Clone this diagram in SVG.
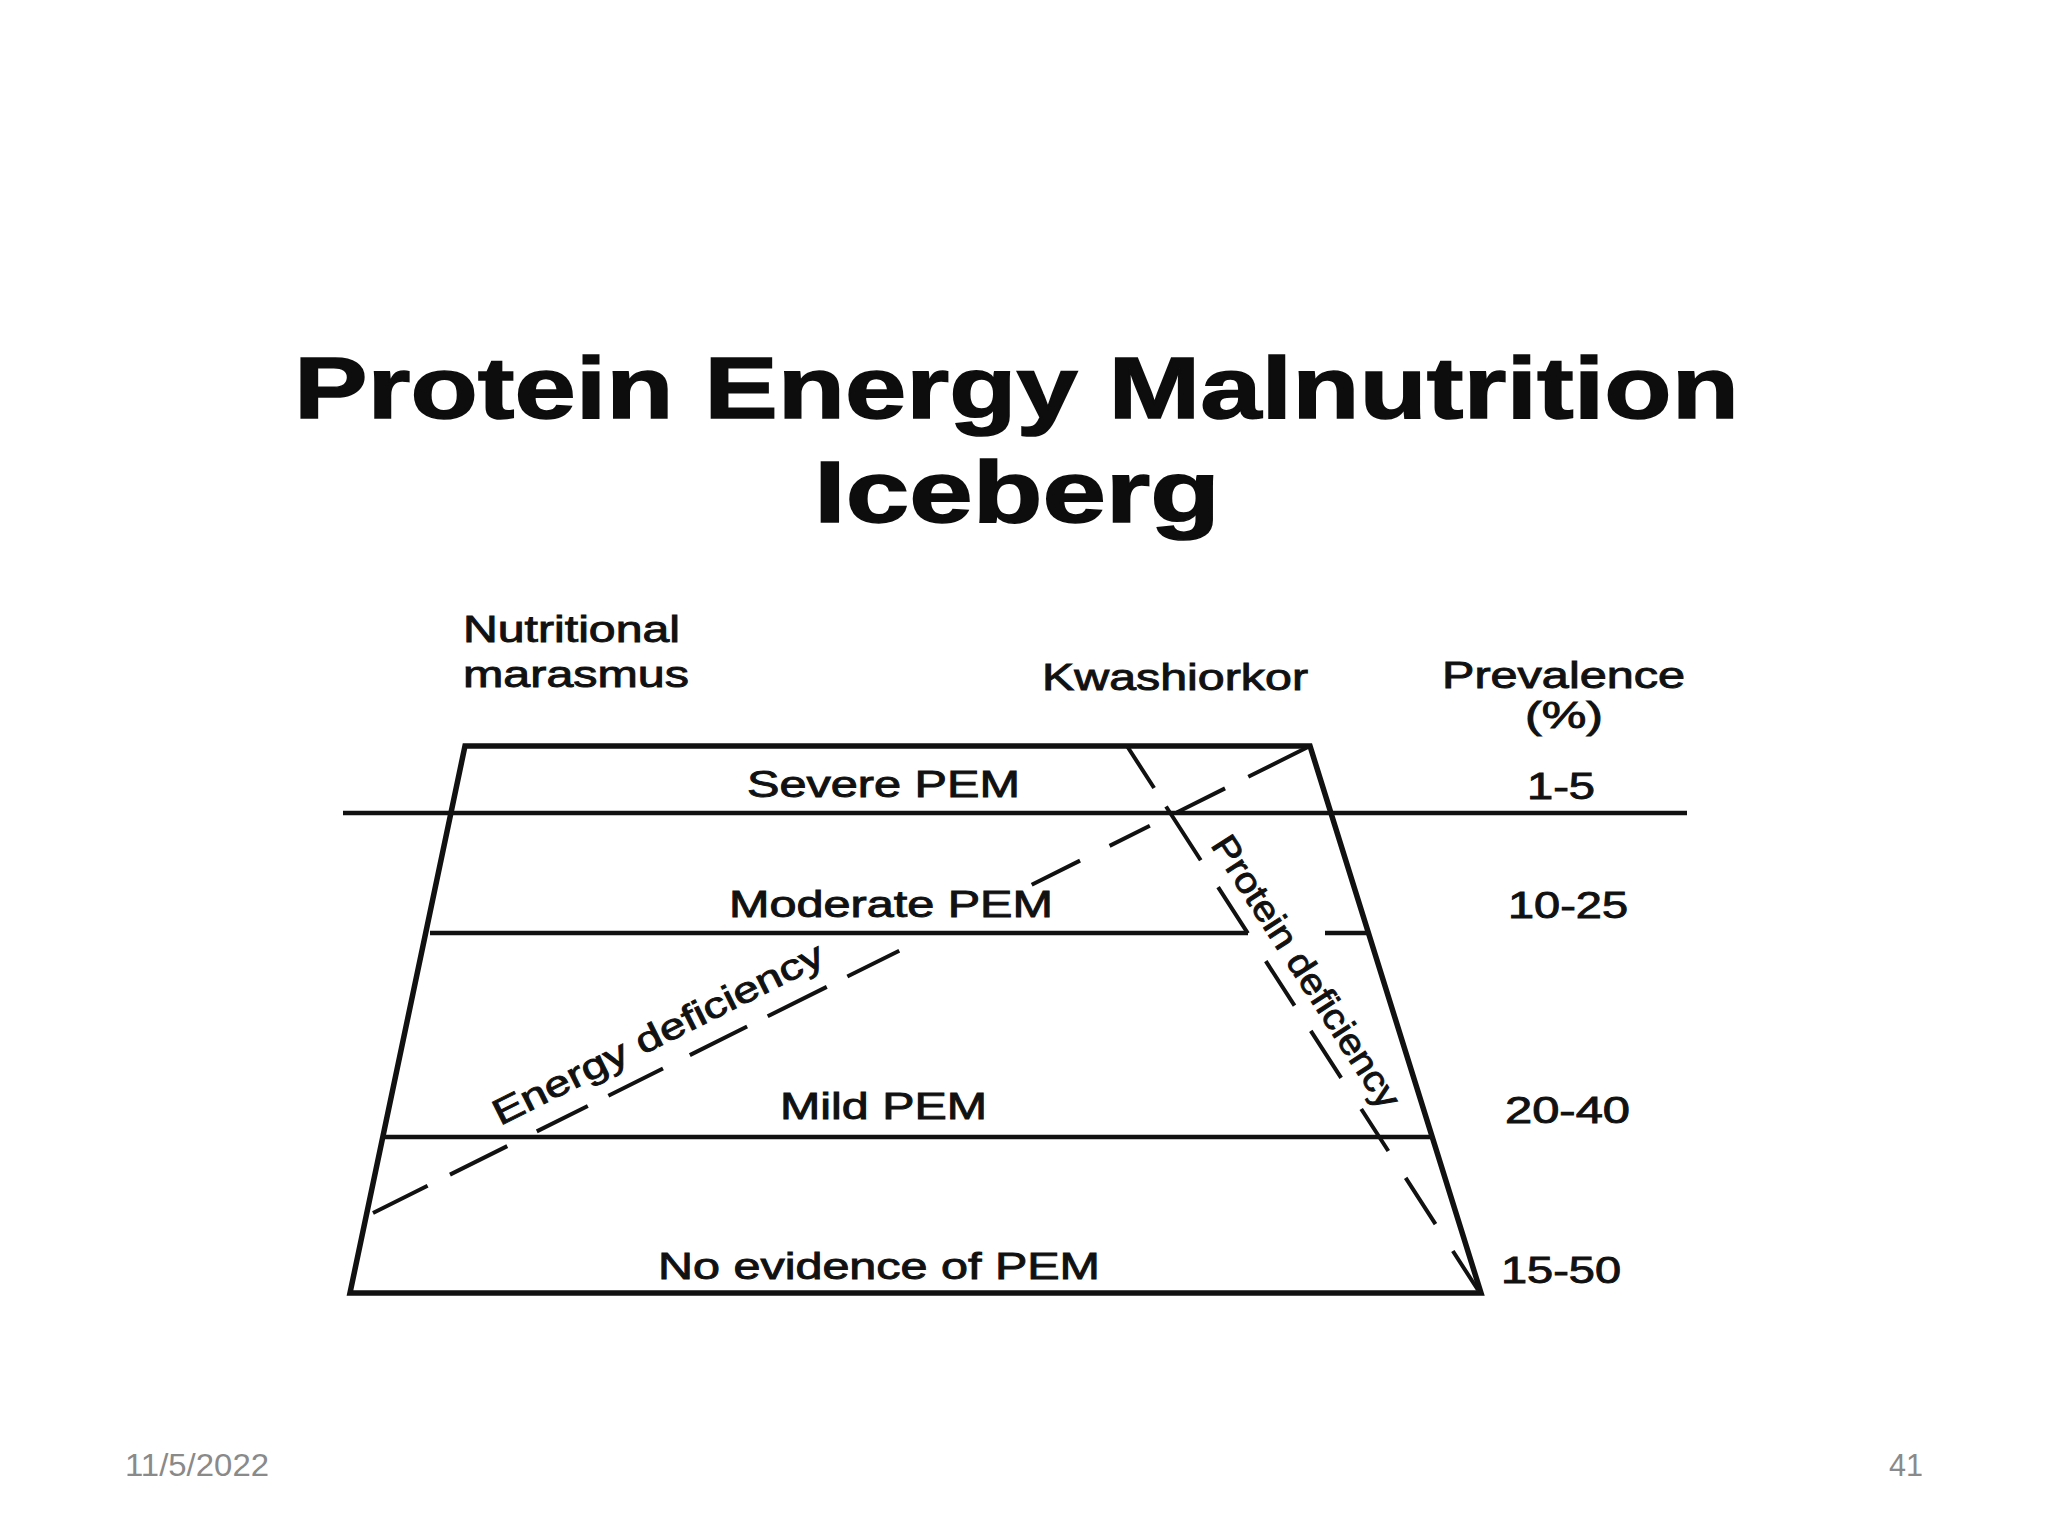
<svg xmlns="http://www.w3.org/2000/svg" width="2048" height="1536" viewBox="0 0 2048 1536">
<style>
.t{font-family:"Liberation Sans",Arial,sans-serif;fill:#111;stroke:#111;stroke-width:0.9}
.lbl{font-size:36px}
.title{font-family:"Liberation Sans",Arial,sans-serif;font-weight:bold;font-size:88px;fill:#0d0d0d;stroke:#0d0d0d;stroke-width:1.5}
.foot{font-family:"Liberation Sans Narrow","Liberation Sans",sans-serif;font-size:32px;fill:#8a8a8a}
.edge{stroke:#111;stroke-width:5.5;fill:none;stroke-linecap:round}
.ln{stroke:#111;stroke-width:4.5;fill:none}
.dash{stroke:#111;stroke-width:4;fill:none}
</style>
<rect width="2048" height="1536" fill="#fff"/>
<g id="title">
<text class="title" x="294" y="418" textLength="1445" lengthAdjust="spacingAndGlyphs">Protein Energy Malnutrition</text>
<text class="title" x="814" y="522" textLength="406" lengthAdjust="spacingAndGlyphs">Iceberg</text>
</g>
<g id="iceberg">
<path class="edge" d="M465,746 L1310,746 L1481,1293 L350,1293 Z"/>
<line class="ln" x1="343" y1="813" x2="1687" y2="813" stroke-width="5"/>
<line class="ln" x1="430" y1="933" x2="1248" y2="933"/>
<line class="ln" x1="1325" y1="933" x2="1368" y2="933"/>
<line class="ln" x1="384" y1="1137" x2="1434" y2="1137"/>
</g>
<g id="connectors">
<line id="energy-line" class="dash" x1="373" y1="1213" x2="1310" y2="746" stroke-dasharray="61 25 64 33 57 23 61 30 64 23 66 23 58 148 54 33 45 30 54 26 69 100"/>
<line id="protein-line" class="dash" x1="1127" y1="746" x2="1478" y2="1290" stroke-dasharray="50 22 64 32 55 33 53 30 56 37 50 32 55 32 55 32"/>
</g>
<g id="labels">
<text class="t lbl" x="463" y="642" textLength="217" lengthAdjust="spacingAndGlyphs">Nutritional</text>
<text class="t lbl" x="463" y="687" textLength="226" lengthAdjust="spacingAndGlyphs">marasmus</text>
<text class="t lbl" x="1042" y="690" textLength="266" lengthAdjust="spacingAndGlyphs">Kwashiorkor</text>
<text class="t lbl" x="1442" y="688" textLength="243" lengthAdjust="spacingAndGlyphs">Prevalence</text>
<text class="t lbl" x="1525" y="728" textLength="78" lengthAdjust="spacingAndGlyphs">(%)</text>
<text class="t lbl" x="747" y="797" textLength="273" lengthAdjust="spacingAndGlyphs">Severe PEM</text>
<text class="t lbl" x="1527" y="799" textLength="68" lengthAdjust="spacingAndGlyphs">1-5</text>
<text class="t lbl" x="729" y="917" textLength="324" lengthAdjust="spacingAndGlyphs">Moderate PEM</text>
<text class="t lbl" x="1508" y="918" textLength="120" lengthAdjust="spacingAndGlyphs">10-25</text>
<text class="t lbl" x="780" y="1119" textLength="207" lengthAdjust="spacingAndGlyphs">Mild PEM</text>
<text class="t lbl" x="1505" y="1123" textLength="125" lengthAdjust="spacingAndGlyphs">20-40</text>
<text class="t lbl" x="658" y="1279" textLength="442" lengthAdjust="spacingAndGlyphs">No evidence of PEM</text>
<text class="t lbl" x="1501" y="1283" textLength="120" lengthAdjust="spacingAndGlyphs">15-50</text>
<text class="t lbl" transform="translate(500,1126) rotate(-26.5)" x="0" y="0" textLength="365" lengthAdjust="spacingAndGlyphs">Energy deficiency</text>
<text class="t lbl" transform="translate(1210,845) rotate(57.2)" x="0" y="0" textLength="317" lengthAdjust="spacingAndGlyphs">Protein deficiency</text>
</g>
<g id="footer">
<text class="foot" x="125" y="1476" textLength="144" lengthAdjust="spacingAndGlyphs">11/5/2022</text>
<text class="foot" x="1889" y="1476" textLength="34" lengthAdjust="spacingAndGlyphs">41</text>
</g>
</svg>
